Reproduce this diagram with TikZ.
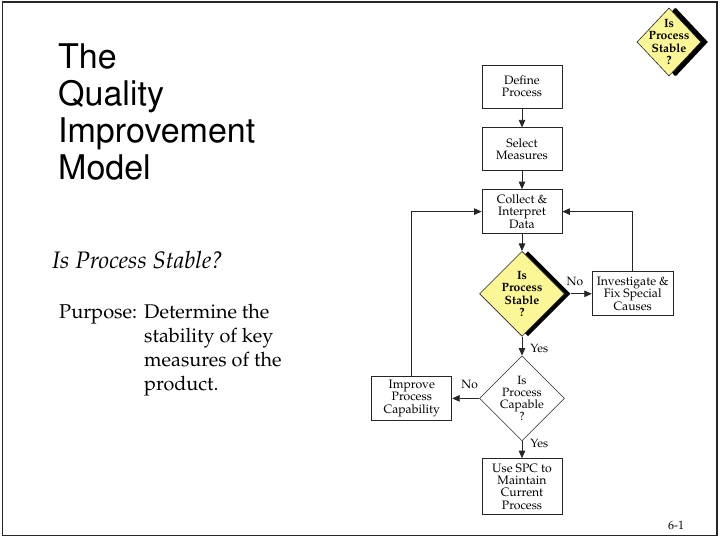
\documentclass[tikz,border=0pt]{standalone}
\usepackage[T1]{fontenc}
\usepackage{mathpazo}
\usepackage{tikz}
\usetikzlibrary{positioning, shapes.geometric, arrows.meta, shadows}

\definecolor{stableyellow}{RGB}{252,247,150}

\begin{document}
\begin{tikzpicture}[x=1pt, y=-1pt,
    procbox/.style={draw=black!85, line width=0.8pt, fill=white, minimum width=80pt,
        minimum height=43pt, align=center, inner sep=1pt, font=\fontsize{12.2}{12.3}\selectfont},
    askbox/.style={diamond, draw=black!85, line width=0.6pt, fill=white, minimum width=85pt,
        minimum height=85pt, inner sep=-9pt, align=center, font=\fontsize{12}{12.3}\selectfont},
    stablebox/.style={askbox, fill=stableyellow, font=\bfseries\fontsize{12}{12.5}\selectfont,
        general shadow={fill=black, shadow xshift=6pt, shadow yshift=0pt}},
    flow/.style={draw=black!85, line width=0.8pt, -{Triangle[length=7.5pt, width=6.5pt]}},
    tag/.style={font=\fontsize{12}{12}\selectfont, inner sep=1pt}]
    \useasboundingbox (0,0) rectangle (720,540);
    \draw[black!85, line width=1.5pt] (2.5,2) rectangle (717,535.5);

    % left column
    \node[anchor=north west, align=left, inner sep=0pt, font=\fontfamily{phv}\fontsize{34}{37}\selectfont]
        (title) at (58,44) {The\\Quality\\Improvement\\Model};
    \node[anchor=base west, inner sep=0pt, font=\itshape\fontsize{23.8}{26}\selectfont]
        (step) at (52,268) {Is Process Stable?};
    \node[anchor=base west, inner sep=0pt, font=\fontsize{20}{24}\selectfont]
        (purpose) at (59,318) {Purpose:};
    \node[anchor=north west, align=left, inner sep=0pt, font=\fontsize{19.8}{24}\selectfont]
        (aim) at (144,303.5) {Determine the\\stability of key\\measures of the\\product.};

    % flow chart
    \node[procbox] (define) at (522,86.5) {Define\\Process};
    \node[procbox, below=19pt of define] (select) {Select\\Measures};
    \node[procbox, below=18pt of select, minimum height=44pt] (collect) {Collect \&\\Interpret\\Data};
    \node[stablebox, below=17pt of collect] (stable) {Is\\Process\\Stable\\?};
    \node[askbox, below=19pt of stable] (capable) {Is\\Process\\Capable\\?};
    \node[procbox, below=17pt of capable, minimum height=56pt] (spc) {Use SPC to\\Maintain\\Current\\Process};
    \node[procbox, right=27pt of stable, minimum width=81pt, minimum height=44pt] (fix) {Investigate \&\\Fix Special\\Causes};
    \node[procbox, left=27pt of capable, minimum height=44pt] (improve) {Improve\\Process\\Capability};

    \foreach \a/\b in {define/select, select/collect, collect/stable}
        \draw[flow] (\a) -- (\b);
    \draw[flow] (stable) -- node[tag, right=7pt, pos=0.6] (yes1) {Yes} (capable);
    \draw[flow] (capable) -- node[tag, right=7pt, pos=0.15] (yes2) {Yes} (spc);
    \draw[flow] ([xshift=6pt]stable.east) -- node[tag, above=7pt, pos=0.2] (no1) {No} (fix);
    \draw[flow] (capable) -- node[tag, above=8pt, pos=0.35] (no2) {No} (improve);
    \draw[flow] (improve.north) |- (collect.west);
    \draw[flow] (fix.north) |- (collect.east);

    % corner mark
    \node[stablebox, minimum width=64pt, minimum height=68pt, font=\bfseries\fontsize{12}{12.3}\selectfont,
        general shadow={fill=black, shadow xshift=7pt, shadow yshift=0pt}] (corner) at (669,42) {Is\\Process\\Stable\\?};
    \node[font=\fontsize{12}{12}\selectfont] (page) at (676,525) {6-1};
\end{tikzpicture}
\end{document}
